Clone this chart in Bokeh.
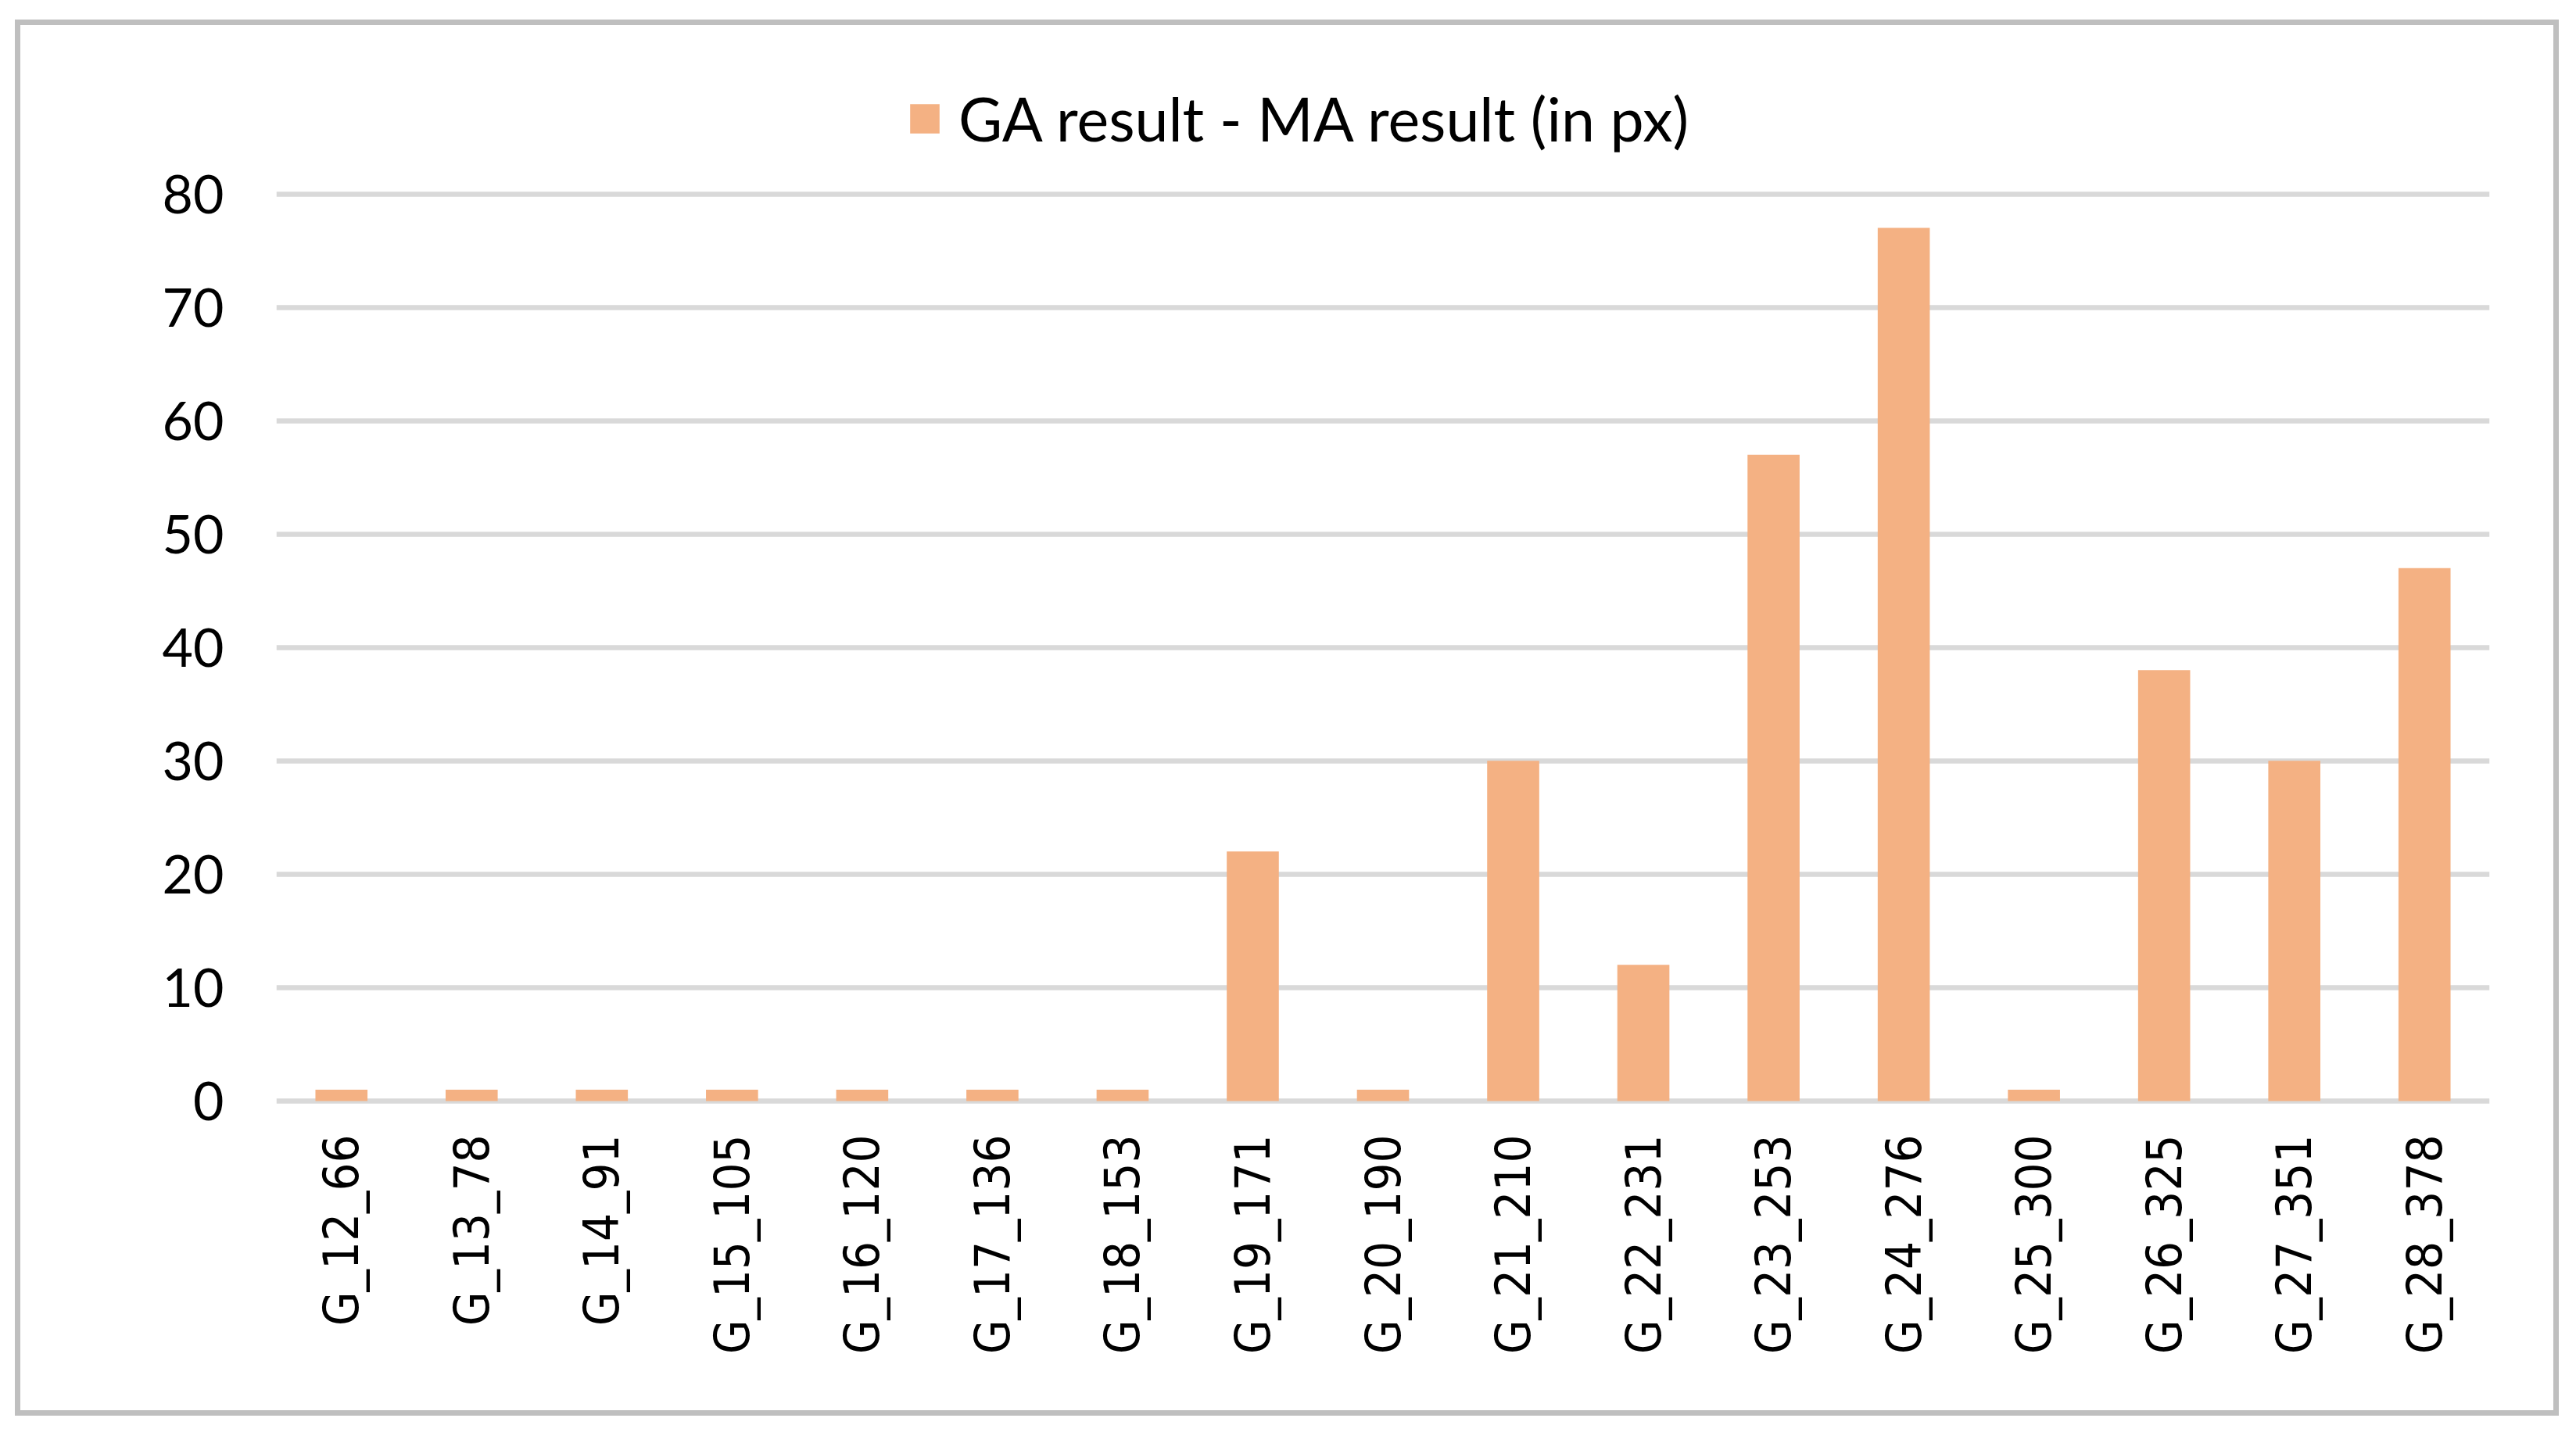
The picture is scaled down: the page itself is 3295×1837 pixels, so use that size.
import math
from bokeh.plotting import figure
from bokeh.layouts import row, column
from bokeh.models import (FactorRange, Range1d, FixedTicker, Legend, LegendItem,
                          ColumnDataSource, Spacer)
from bokeh.embed import file_html
from bokeh.resources import INLINE

categories = ["G_12_66", "G_13_78", "G_14_91", "G_15_105", "G_16_120", "G_17_136",
              "G_18_153", "G_19_171", "G_20_190", "G_21_210", "G_22_231", "G_23_253",
              "G_24_276", "G_25_300", "G_26_325", "G_27_351", "G_28_378"]
values = [1, 1, 1, 1, 1, 1, 1, 22, 1, 30, 12, 57, 77, 1, 38, 30, 47]
series_name = "GA result - MA result (in px)"
y_ticks = [0, 10, 20, 30, 40, 50, 60, 70, 80]

BAR = "#F4B183"
GRID = "#D9D9D9"
BORDER = "#BFBFBF"

src = ColumnDataSource(data=dict(cat=categories, val=values))

p = figure(x_range=FactorRange(*categories, range_padding=0),
           y_range=Range1d(-0.35, 91),
           width=3254, height=1786,
           output_backend="svg", toolbar_location=None,
           min_border_left=334, min_border_right=89,
           min_border_top=63, min_border_bottom=398)
p.styles = {"outline": f"7px solid {BORDER}", "outline-offset": "-7px",
            "background-color": "white"}
p.background_fill_color = "white"
p.background_fill_alpha = 0
p.border_fill_alpha = 0
p.outline_line_color = None

r = p.vbar(x="cat", top="val", width=0.4, source=src,
           fill_color=BAR, line_color=None)

# grid
p.xgrid.grid_line_color = None
p.ygrid.ticker = FixedTicker(ticks=y_ticks)
p.ygrid.grid_line_color = GRID
p.ygrid.grid_line_width = 6.5

# y axis
p.yaxis.ticker = FixedTicker(ticks=y_ticks)
p.yaxis.axis_line_color = None
p.yaxis.major_tick_line_color = None
p.yaxis.minor_tick_line_color = None
p.yaxis.major_tick_out = 0
p.yaxis.major_tick_in = 0
p.yaxis.major_label_standoff = 67
p.yaxis.major_label_text_font = "Lato"
p.yaxis.major_label_text_font_size = "68px"
p.yaxis.major_label_text_color = "black"

# x axis
p.xaxis.axis_line_color = None
p.xaxis.major_tick_line_color = None
p.xaxis.minor_tick_line_color = None
p.xaxis.major_tick_out = 0
p.xaxis.major_tick_in = 0
p.xaxis.major_label_standoff = 38
p.xaxis.major_label_orientation = math.pi / 2
p.xaxis.major_label_text_font = "DejaVu Sans Condensed"
p.xaxis.major_label_text_font_size = "63px"
p.xaxis.major_label_text_color = "black"

legend = Legend(items=[LegendItem(label=series_name, renderers=[r])],
                location=(806, 1216), orientation="horizontal",
                padding=0, margin=0, spacing=0,
                border_line_color=None, background_fill_alpha=0,
                glyph_width=47, glyph_height=47, label_standoff=20,
                label_text_font="Lato", label_text_font_size="77px",
                label_text_color="black")
p.add_layout(legend, "center")

layout = row(Spacer(width=19, height=10), column(Spacer(width=10, height=25), p))

open("out.html", "w").write(file_html(layout, INLINE))
